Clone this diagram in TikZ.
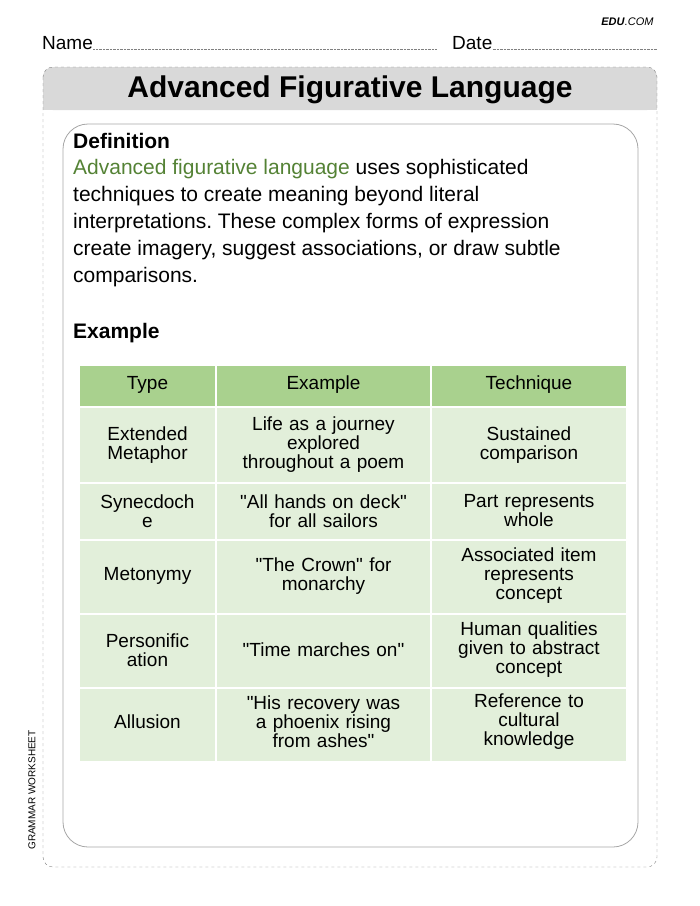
\documentclass[tikz,border=0pt]{standalone}
\usepackage{fontspec}
\setmainfont{Liberation Sans}[Ligatures=TeXOff]
\frenchspacing
\definecolor{hdr}{HTML}{A9D18E}
\definecolor{cellc}{HTML}{E2EFDA}
\definecolor{grn}{HTML}{548235}
\newcommand{\qq}{"}
\begin{document}
\begin{tikzpicture}[x=1pt,y=-1pt,
 cell/.style={fill=cellc,draw=white,line width=1.2pt},
 hcell/.style={fill=hdr,draw=white,line width=1.2pt},
 ctext/.style={align=center,font=\fontsize{19}{19}\selectfont,text width=140pt},
 body/.style={anchor=west,font=\fontsize{21}{27}\selectfont,inner sep=0pt}]
\useasboundingbox (0,0) rectangle (700,906);
\node[anchor=east,font=\fontsize{11}{11}\selectfont\bfseries\itshape] (edu) at (657,22) {EDU\textnormal{\itshape .COM}};
\node[anchor=base west,font=\fontsize{19}{19}\selectfont,inner sep=0] (nm) at (42,49) {Name};
\node[anchor=base west,font=\fontsize{19}{19}\selectfont,inner sep=0] (dt) at (452,49) {Date};
\draw[gray,densely dotted] (nm.base east) -- (437,49);
\draw[gray,densely dotted] (dt.base east) -- (657,49);
\fill[gray!30,rounded corners=10pt] (43,110) -- (43,67) -- (657,67) -- (657,110) -- cycle;
\fill[gray!30] (43,95) rectangle (657,110);
\draw[gray,dashed,rounded corners=10pt] (43,67) rectangle (657,867);
\node[font=\fontsize{30}{30}\selectfont\bfseries] (title) at (350,90) {Advanced Figurative Language};
\draw[gray!70,line width=0.8pt,rounded corners=25pt] (63,124) rectangle (638,847);
\node[body,font=\fontsize{21}{21}\selectfont\bfseries] (def) at (73,141) {Definition};
\node[body,anchor=north west,align=left] (para) at (73,159) {\textcolor{grn}{Advanced figurative language} uses sophisticated\\techniques to create meaning beyond literal\\interpretations. These complex forms of expression\\create imagery, suggest associations, or draw subtle\\comparisons.};
\node[body,font=\fontsize{21}{21}\selectfont\bfseries] (ex) at (73,333) {Example};
\def\cA{79}\def\cB{216}\def\cC{431}\def\cD{627}
\foreach \ya/\yb [count=\i] in {407/483,483/540,540/614,614/688,688/762}{
 \draw[cell] (\cA,\ya) rectangle (\cB,\yb);
 \draw[cell] (\cB,\ya) rectangle (\cC,\yb);
 \draw[cell] (\cC,\ya) rectangle (\cD,\yb);}
\draw[hcell] (\cA,365) rectangle (\cB,407);
\draw[hcell] (\cB,365) rectangle (\cC,407);
\draw[hcell] (\cC,365) rectangle (\cD,407);
\node[ctext] (h1) at (147.5,385) {Type};
\node[ctext] (h2) at (323.5,385) {Example};
\node[ctext] (h3) at (529,385) {Technique};
\node[ctext,text width=120pt] (a1) at (147.5,445) {Extended\\Metaphor};
\node[ctext,text width=190pt] (b1) at (323.5,445) {Life as a journey\\explored\\throughout a poem};
\node[ctext,text width=180pt] (c1) at (529,445) {Sustained\\comparison};
\node[ctext,text width=120pt] (a2) at (147.5,511) {Synecdoch\\e};
\node[ctext,text width=190pt] (b2) at (323.5,511) {\qq All hands on deck\qq\\for all sailors};
\node[ctext,text width=180pt] (c2) at (529,511) {Part represents\\whole};
\node[ctext,text width=120pt] (a3) at (147.5,576) {Metonymy};
\node[ctext,text width=190pt] (b3) at (323.5,576) {\qq The Crown\qq{} for\\monarchy};
\node[ctext,text width=180pt] (c3) at (529,576) {Associated item\\represents\\concept};
\node[ctext,text width=120pt] (a4) at (147.5,650) {Personific\\ation};
\node[ctext,text width=190pt] (b4) at (323.5,650) {\qq Time marches on\qq};
\node[ctext,text width=180pt] (c4) at (529,650) {Human qualities\\given to abstract\\concept};
\node[ctext,text width=120pt] (a5) at (147.5,722) {Allusion};
\node[ctext,text width=190pt] (b5) at (323.5,722) {\qq His recovery was\\a phoenix rising\\from ashes\qq};
\node[ctext,text width=180pt] (c5) at (529,722) {Reference to\\cultural\\knowledge};
\node[rotate=90,font=\fontsize{10}{10}\selectfont] (gw) at (32,790) {GRAMMAR WORKSHEET};
\end{tikzpicture}
\end{document}
